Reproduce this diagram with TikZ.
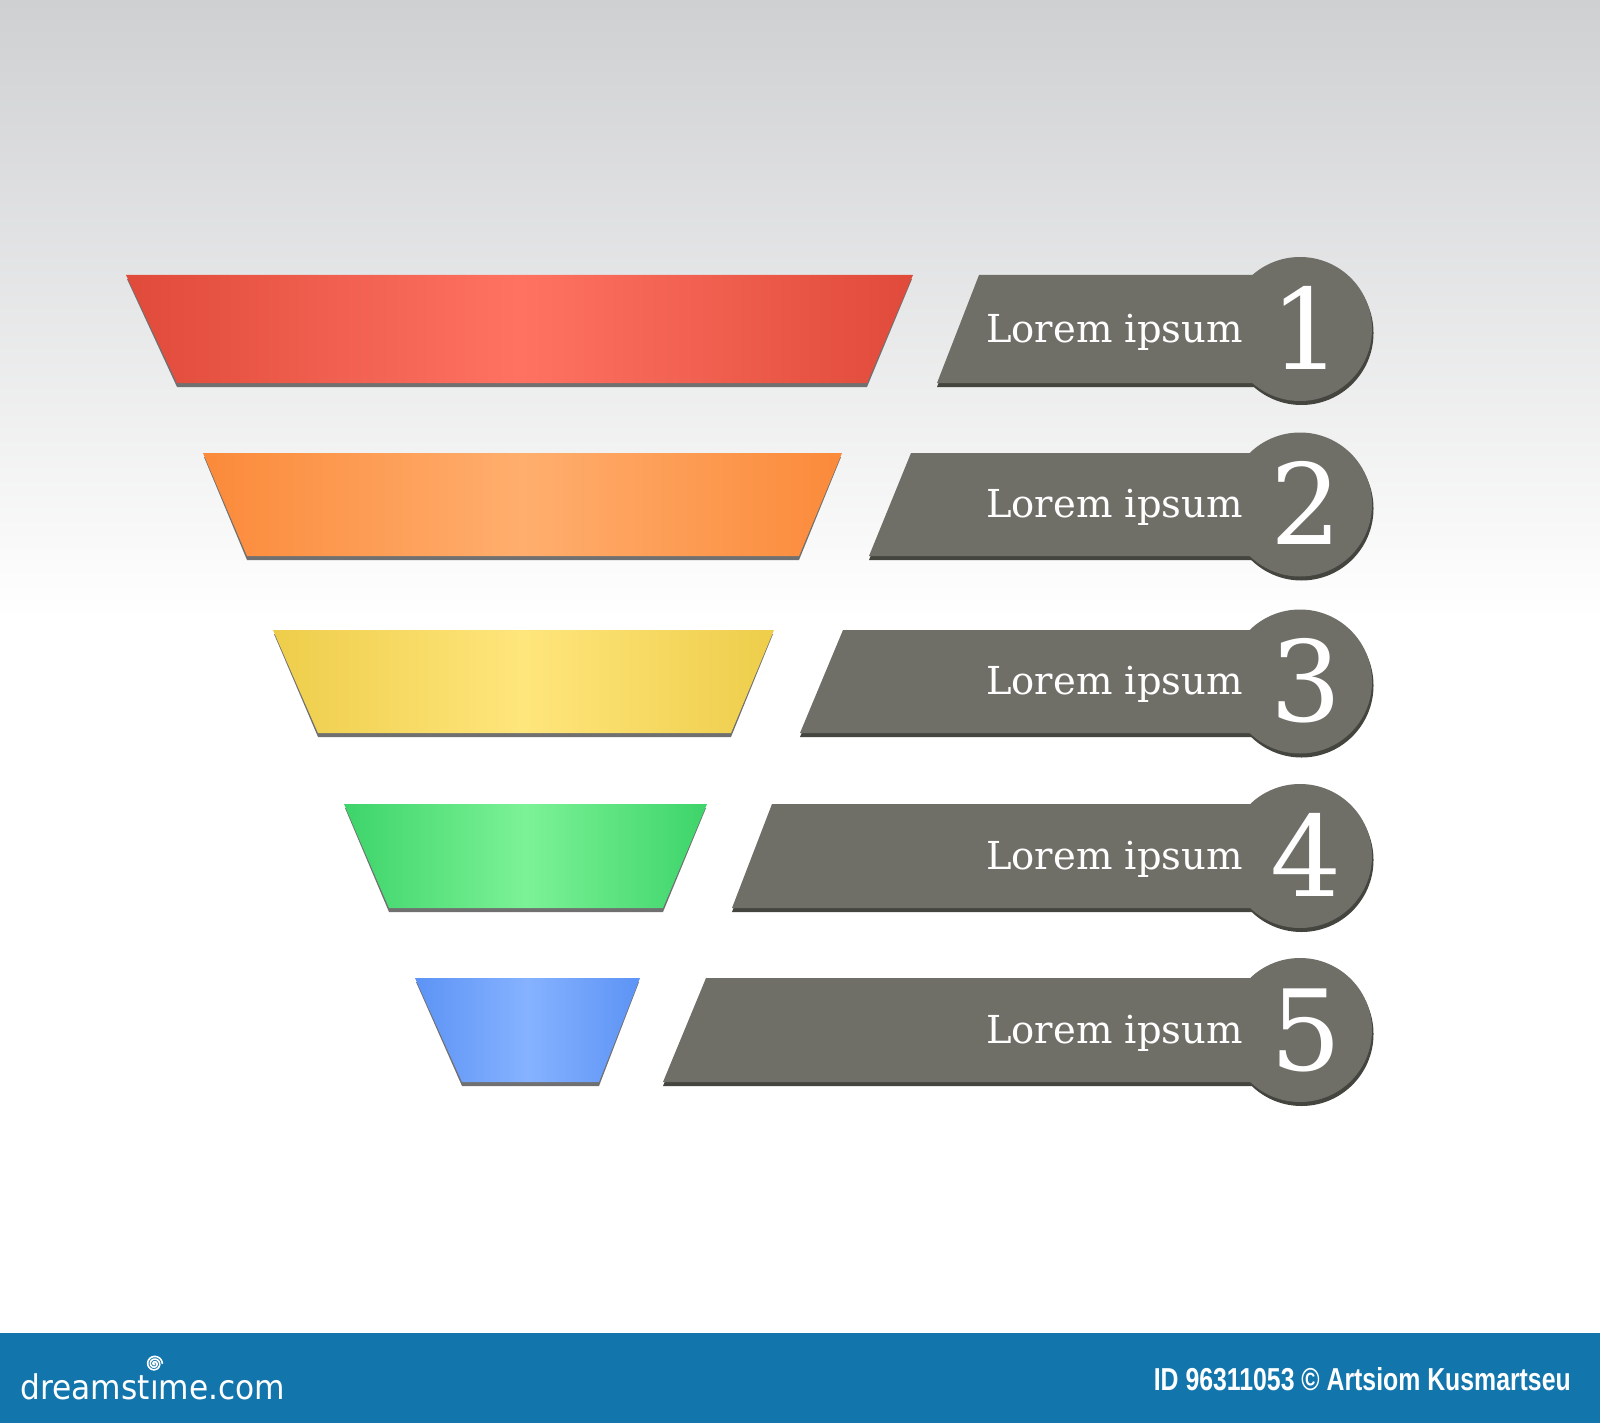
\documentclass[tikz,border=0pt]{standalone}
\usepackage{fontspec}
\newfontfamily\barfont{Liberation Sans}
\newfontfamily\logofont{DejaVu Sans}
\newfontfamily\lblfont{DejaVu Serif}
\definecolor{bgtop}{HTML}{CFD0D2}
\definecolor{bgmid}{HTML}{F0F0F1}
\definecolor{barblue}{HTML}{1276AD}
\definecolor{redE}{HTML}{E04A3A}
\definecolor{redM}{HTML}{FF7262}
\definecolor{orE}{HTML}{FB8A3A}
\definecolor{orM}{HTML}{FFAE6E}
\definecolor{yeE}{HTML}{EECD4A}
\definecolor{yeM}{HTML}{FFE67C}
\definecolor{grE}{HTML}{3DD46A}
\definecolor{grM}{HTML}{7CF296}
\definecolor{blE}{HTML}{5C93F5}
\definecolor{blM}{HTML}{86B2FF}
\definecolor{trshadow}{HTML}{707070}
\definecolor{lblgray}{HTML}{6F6E67}
\definecolor{lblshadow}{HTML}{45453F}
\tikzset{
  lbltext/.style={inner sep=0pt, text=white, font=\lblfont\fontsize{38.5}{46}\selectfont},
  numtext/.style={inner sep=0pt, text=white, font=\lblfont\fontsize{112}{120}\selectfont},
  bartext/.style={inner sep=0pt, text=white},
}
\begin{document}
\begin{tikzpicture}[x=1pt,y=-1pt]
\useasboundingbox (0,0) rectangle (1600,1423);
\fill[white] (0,0) rectangle (1600,1423);
\shade[top color=bgtop, middle color=bgmid, bottom color=white] (0,0) rectangle (1600,620);
% funnel rows
\foreach \n/\t/\b/\a/\c/\d/\e/\ce/\cm/\la/\lb in {
  1/275/383/126/913/867/177/redE/redM/979/937,
  2/453/556/203/842/799/247/orE/orM/911/869,
  3/630/733/273/774/731/318/yeE/yeM/843/800,
  4/804/908/344/707/663/389/grE/grM/772/732,
  5/978/1082/415/640/599/462/blE/blM/706/663}{
  \pgfmathsetmacro\m{(\t+\b)/2}
  % trapezoid with shadow
  \fill[trshadow] (\a+1,\t+4) -- (\c-1,\t+4) -- (\d,\b+4) -- (\e,\b+4) -- cycle;
  \shade[left color=\ce, right color=\ce, middle color=\cm] (\a,\t) -- (\c,\t) -- (\d,\b) -- (\e,\b) -- cycle;
  % label: circle shadow, band shadow, band, circle
  \fill[lblshadow] (1301.5,\m+4) circle[radius=72];
  \fill[lblshadow] (\la,\t+4) -- (1300,\t+4) -- (1300,\b+4) -- (\lb,\b+4) -- cycle;
  \fill[lblgray] (\la,\t) -- (1300,\t) -- (1300,\b) -- (\lb,\b) -- cycle;
  \fill[lblgray] (1300,\m) circle[radius=72];
  \node[lbltext, anchor=base east] (txt\n) at (1243,\m+13) {Lorem ipsum};
  \node[numtext, anchor=base] (num\n) at (1306,\m+40) {\n};
}
% bottom bar
\fill[barblue] (0,1333) rectangle (1600,1423);
\node[bartext, anchor=base west] (logoA) at (20,1399)
  {\scalebox{0.92}[1]{\logofont\fontsize{34}{40}\selectfont dreamst}};
\node[bartext, anchor=base west] (logoB) at (logoA.base east)
  {\scalebox{0.92}[1]{\logofont\fontsize{34}{40}\selectfont ıme.com}};
\coordinate (spiral) at ([xshift=4.5pt,yshift=16pt]logoB.north west);
\draw[white, line width=1.6pt, shift={(spiral)}]
  plot[domain=0:1080, samples=90, smooth] ({\x/135*cos(\x)}, {\x/135*sin(\x)});
\node[bartext, anchor=base east] (credit) at (1571,1390)
  {\resizebox{417pt}{23pt}{\barfont\bfseries ID 96311053 © Artsiom Kusmartseu}};
\end{tikzpicture}
\end{document}
